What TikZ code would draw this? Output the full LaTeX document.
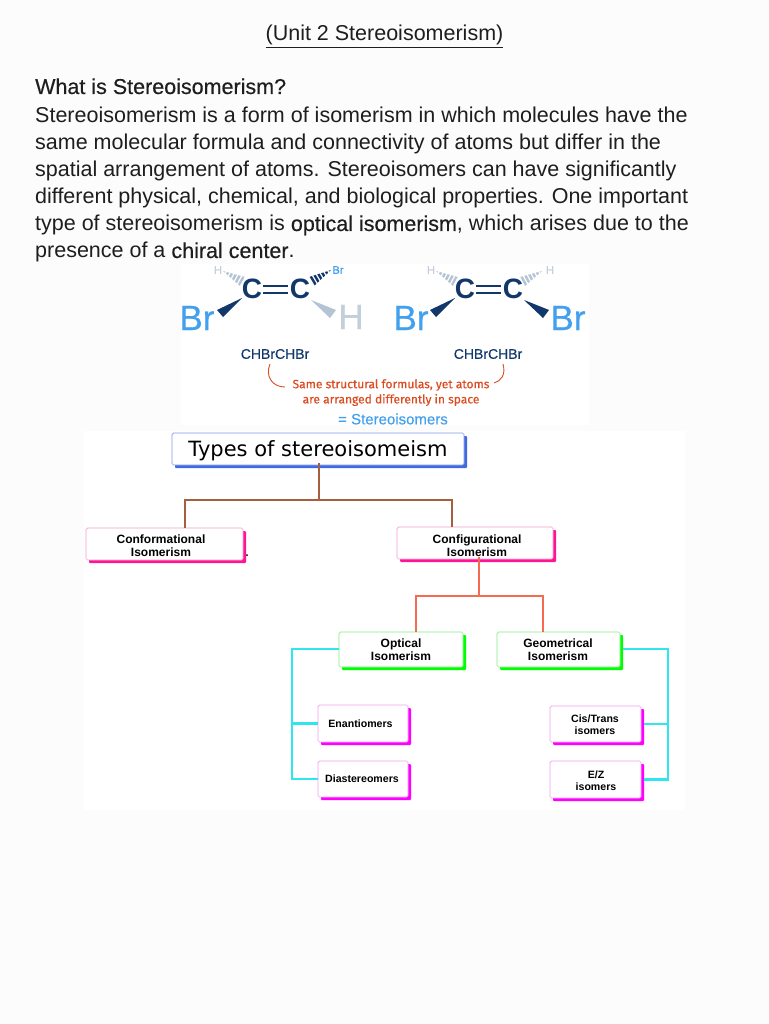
\documentclass[tikz,border=0pt]{standalone}
\usepackage{fontspec}
\setmainfont{Liberation Sans}
\newfontfamily\med[FakeBold=0.4]{Liberation Sans}
\newfontfamily\dejavu{DejaVu Sans}
\newfontfamily\fira[FakeBold=0.4]{Fira Sans}
\usetikzlibrary{calc}
\definecolor{pagebg}{HTML}{FCFCFC}
\definecolor{ink}{HTML}{1E1E1E}
\definecolor{navy}{HTML}{12386B}
\definecolor{lightgrey}{HTML}{C4CFDC}
\definecolor{midgrey}{HTML}{B4C4D4}
\definecolor{brbl}{HTML}{42A0EE}
\definecolor{redt}{HTML}{DC4C22}
\definecolor{brownl}{HTML}{A65F3E}
\definecolor{orangel}{HTML}{F56A50}
\definecolor{cyanl}{HTML}{2FE6EE}
\definecolor{royal}{HTML}{4169E1}
\definecolor{royall}{HTML}{7F9BEA}
\definecolor{dpink}{HTML}{FF1493}
\definecolor{dpinkl}{HTML}{F2A0CC}
\definecolor{lime}{HTML}{00FF00}
\definecolor{limel}{HTML}{80F080}
\definecolor{mag}{HTML}{FF00FF}
\definecolor{magl}{HTML}{F0A0F0}
\tikzset{
  para/.style={anchor=base west,inner sep=0pt,text=ink,font=\fontsize{21.5}{24}\selectfont},
  chem/.style={inner sep=0pt,font=\fontsize{#1}{#1}\selectfont},
  cmed/.style={inner sep=0pt,font=\med\fontsize{#1}{#1}\selectfont},
  cbold/.style={inner sep=0pt,text=navy,font=\bfseries\fontsize{28}{28}\selectfont},
  redtxt/.style={inner sep=0pt,text=redt,font=\fira\fontsize{12}{12}\selectfont},
  boxbase/.style={draw=#1,line width=0.7pt,fill=white,rounded corners=1.5pt,inner sep=0pt},
  bigtxt/.style={inner sep=0pt,align=center,font=\bfseries\fontsize{12}{13}\selectfont},
  lowtxt/.style={inner sep=0pt,align=center,font=\bfseries\fontsize{10.6}{12}\selectfont},
  conn/.style={line width=2.2pt,draw=#1}
}
\newcommand{\bx}[7]{%
  \fill[#7,rounded corners=1pt] (#2+3,#3+3) rectangle (#4+3,#5+3);
  \node[boxbase=#6,minimum width=#4pt-#2pt,minimum height=#5pt-#3pt] (#1) at ({(#2+#4)/2},{(#3+#5)/2}) {};}
\newcommand{\solidw}[4]{\fill[#1] (#2) -- (#3) -- (#4) -- cycle;}
\newcommand{\hashw}[4]{\begin{scope}\clip (#2) -- (#3) -- (#4) -- cycle;
  \draw[#1,line width=14pt,dash pattern=on 2.4pt off 1.5pt] (#2) -- ($(#3)!0.5!(#4)$);\end{scope}}
\begin{document}
\begin{tikzpicture}[x=1pt,y=-1pt]
\useasboundingbox (0,0) rectangle (768,1024);
\fill[pagebg] (0,0) rectangle (768,1024);
\fill[white] (181,264) rectangle (589,425);
\fill[white] (84,431) rectangle (685,810);
% heading and paragraph
\node[para,anchor=base] (head) at (384.5,41) {\underline{(Unit 2 Stereoisomerism)}};
\node[para] (l0) at (35,94) {\med What is Stereoisomerism?};
\node[para] (l1) at (35,123) {Stereoisomerism is a form of isomerism in which molecules have the};
\node[para] (l2) at (35,150) {same molecular formula and connectivity of atoms but differ in the};
\node[para] (l3) at (35,177) {spatial arrangement of atoms. Stereoisomers can have significantly};
\node[para] (l4) at (35,204) {different physical, chemical, and biological properties. One important};
\node[para] (l5) at (35,231) {type of stereoisomerism is {\med optical isomerism}, which arises due to the};
\node[para] (l6) at (35,258) {presence of a {\med chiral center}.};
% molecule 1
\node[cbold] (c1) at (252,289) {C};
\node[cbold] (c2) at (300,289) {C};
\draw[navy,line width=2.8pt] (263,286) -- (288,286) (263,293) -- (288,293);
\node[cmed=35,text=brbl] (br1) at (197,318) {Br};
\node[cmed=35,text=lightgrey] (h1) at (351,317) {H};
\node[cmed=11,text=lightgrey] (h2) at (218,270) {H};
\node[cmed=11,text=brbl] (br2) at (338,270) {Br};
\solidw{navy}{242,298}{217,310}{223,317}
\solidw{midgrey}{311,300}{336,310}{330,318}
\hashw{midgrey}{223,271}{245,277}{240,286}
\hashw{navy}{331,270}{309,277}{314,286}
% molecule 2
\node[cbold] (c3) at (465,289) {C};
\node[cbold] (c4) at (513,289) {C};
\draw[navy,line width=2.8pt] (476,286) -- (501,286) (476,293) -- (501,293);
\node[cmed=35,text=brbl] (br3) at (411,318) {Br};
\node[cmed=35,text=brbl] (br4) at (568,318) {Br};
\node[cmed=11,text=lightgrey] (h3) at (431,270) {H};
\node[cmed=11,text=lightgrey] (h4) at (550,270) {H};
\solidw{navy}{455,298}{430,310}{436,317}
\solidw{navy}{524,300}{549,310}{543,318}
\hashw{midgrey}{436,271}{458,277}{453,286}
\hashw{midgrey}{542,271}{520,277}{525,286}
% captions
\node[cmed=14,text=navy] (f1) at (275,354) {CHBrCHBr};
\node[cmed=14,text=navy] (f2) at (488,354) {CHBrCHBr};
\node[redtxt] (r1) at (391,385) {Same structural formulas, yet atoms};
\node[redtxt] (r2) at (391,400) {are arranged differently in space};
\node[cmed=15,text=brbl] (r3) at (393,419) {= Stereoisomers};
\coordinate (q1) at (270,364);
\coordinate (q2) at (285,387);
\coordinate (q3) at (503,364);
\coordinate (q4) at (494,383);
\draw[redt,line width=0.9pt] (q1) .. controls (265,376) and (272,387) .. (q2);
\draw[redt,line width=0.9pt] (q3) .. controls (506,375) and (501,381) .. (q4);
% boxes
\bx{title}{172}{433}{464}{465}{royall}{royal}
\node[inner sep=0pt,font=\dejavu\fontsize{21}{24}\selectfont] (titlet) at (318,450.5) {Types of stereoisomeism};
\bx{conf}{86}{528}{243}{560}{dpinkl}{dpink}
\node[bigtxt] (conft) at (161,546) {Conformational\\Isomerism};
\bx{cfg}{397}{527}{553}{559}{dpinkl}{dpink}
\node[bigtxt] (cfgt) at (477,545.5) {Configurational\\Isomerism};
\bx{opt}{339}{632}{463}{667}{limel}{lime}
\node[bigtxt] (optt) at (401,650) {Optical\\Isomerism};
\bx{geo}{497}{632}{620}{667}{limel}{lime}
\node[bigtxt] (geot) at (558,650) {Geometrical\\Isomerism};
\bx{ena}{318}{705}{408}{742}{magl}{mag}
\node[lowtxt] (enat) at (360.5,724) {Enantiomers};
\bx{dia}{318}{761}{408}{797}{magl}{mag}
\node[lowtxt] (diat) at (362,779) {Diastereomers};
\bx{cis}{550}{706}{641}{742}{magl}{mag}
\node[lowtxt] (cist) at (595,724.5) {Cis/Trans\\isomers};
\bx{ez}{550}{761}{641}{798}{magl}{mag}
\node[lowtxt] (ezt) at (596,781) {E/Z\\isomers};
\fill[black] (247,555) circle (1pt);
% connectors
\coordinate (bj) at (319,500);
\coordinate (bl) at (185,500);
\coordinate (br) at (452,500);
\coordinate (oj) at (479,596);
\coordinate (ol) at (416,596);
\coordinate (or) at (543,596);
\coordinate (cl) at (292,649);
\coordinate (cr) at (668,649);
\draw[conn=brownl] ([yshift=2pt]title.south -| bj) -- (bj);
\draw[conn=brownl] (conf.north -| bl) -- (bl) -- (br) -- (cfg.north -| br);
\draw[conn=orangel] ([yshift=2pt]cfg.south -| oj) -- (oj);
\draw[conn=orangel] (opt.north -| ol) -- (ol) -- (or) -- (geo.north -| or);
\draw[conn=cyanl] (opt.west |- cl) -- (cl) |- (dia.west);
\draw[conn=cyanl] (cl |- ena.west) -- (ena.west);
\draw[conn=cyanl] ([xshift=3pt]geo.east |- cr) -- (cr) |- ([xshift=3pt]ez.east);
\draw[conn=cyanl] (cr |- cis.east) -- ([xshift=3pt]cis.east);
\end{tikzpicture}
\end{document}
